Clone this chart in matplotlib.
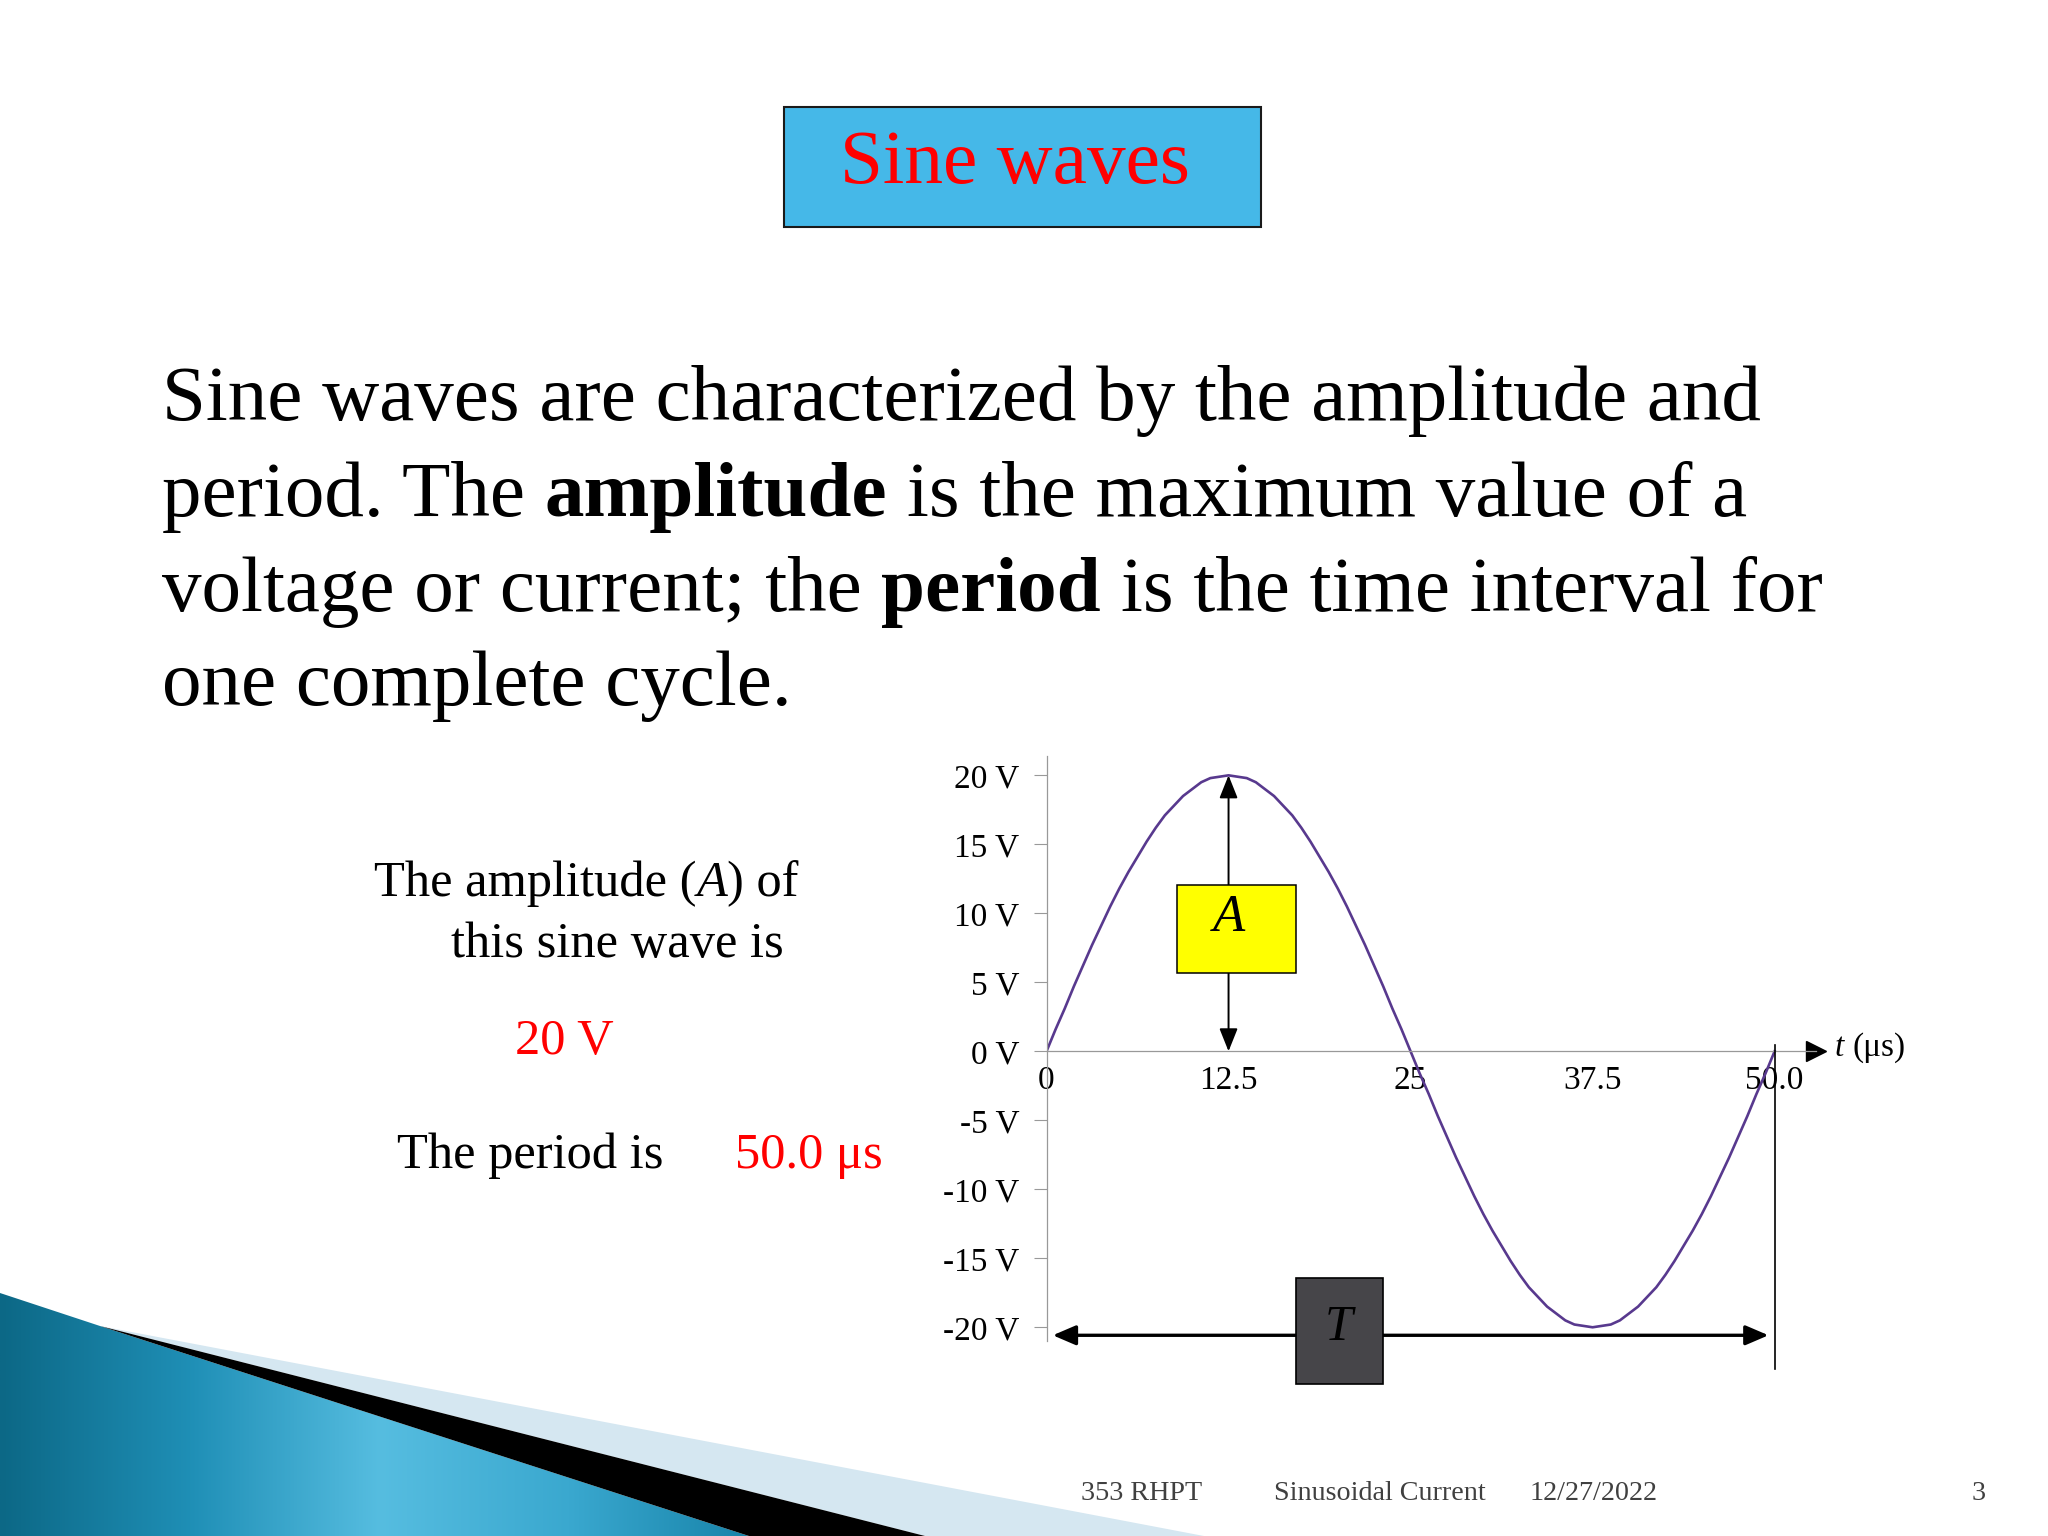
import numpy as np
import matplotlib.pyplot as plt
from matplotlib.patches import Rectangle, Polygon
from matplotlib.colors import LinearSegmentedColormap

plt.rcParams['font.family'] = ['Liberation Serif', 'DejaVu Serif']

# values (one cycle, every 0.625 us)
t_us = [0, 0.625, 1.25, 1.875, 2.5, 3.125, 3.75, 4.375, 5, 5.625,
        6.25, 6.875, 7.5, 8.125, 8.75, 9.375, 10, 10.625, 11.25, 11.875,
        12.5, 13.125, 13.75, 14.375, 15, 15.625, 16.25, 16.875, 17.5, 18.125,
        18.75, 19.375, 20, 20.625, 21.25, 21.875, 22.5, 23.125, 23.75, 24.375,
        25, 25.625, 26.25, 26.875, 27.5, 28.125, 28.75, 29.375, 30, 30.625,
        31.25, 31.875, 32.5, 33.125, 33.75, 34.375, 35, 35.625, 36.25, 36.875,
        37.5, 38.125, 38.75, 39.375, 40, 40.625, 41.25, 41.875, 42.5, 43.125,
        43.75, 44.375, 45, 45.625, 46.25, 46.875, 47.5, 48.125, 48.75, 49.375,
        50]
volts = [0.0, 1.6, 3.1, 4.7, 6.2, 7.7, 9.1, 10.5, 11.8, 13.0,
         14.1, 15.2, 16.2, 17.1, 17.8, 18.5, 19.0, 19.5, 19.8, 19.9,
         20.0, 19.9, 19.8, 19.5, 19.0, 18.5, 17.8, 17.1, 16.2, 15.2,
         14.1, 13.0, 11.8, 10.5, 9.1, 7.7, 6.2, 4.7, 3.1, 1.6,
         0.0, -1.6, -3.1, -4.7, -6.2, -7.7, -9.1, -10.5, -11.8, -13.0,
         -14.1, -15.2, -16.2, -17.1, -17.8, -18.5, -19.0, -19.5, -19.8, -19.9,
         -20.0, -19.9, -19.8, -19.5, -19.0, -18.5, -17.8, -17.1, -16.2, -15.2,
         -14.1, -13.0, -11.8, -10.5, -9.1, -7.7, -6.2, -4.7, -3.1, -1.6,
         0.0]
y_ticks = [20, 15, 10, 5, 0, -5, -10, -15, -20]
y_labels = ['20 V', '15 V', '10 V', '5 V', '0 V', '-5 V', '-10 V', '-15 V', '-20 V']
x_ticks = [0, 12.5, 25, 37.5, 50]
x_labels = ['0', '12.5', '25', '37.5', '50.0']
amplitude = 20
period = 50.0

title = 'Sine waves'
body_lines = [
    [('Sine waves are characterized by the amplitude and', {})],
    [('period. The ', {}), ('amplitude', {'weight': 'bold'}), (' is the maximum value of a', {})],
    [('voltage or current; the ', {}), ('period', {'weight': 'bold'}), (' is the time interval for', {})],
    [('one complete cycle.', {})],
]
footer = ['353 RHPT', 'Sinusoidal Current', '12/27/2022', '3']

fig = plt.figure(figsize=(20.48, 15.36), dpi=100)
bg = fig.add_axes([0, 0, 1, 1])
bg.axis('off')
renderer = fig.canvas.get_renderer()


def width(s, size, **kw):
    t = bg.text(0, 0, s, fontsize=size, **kw)
    w = t.get_window_extent(renderer).width
    t.remove()
    return w


def runs_width(runs, size):
    sp = width('a a', size) - width('aa', size)
    total = 0
    for s, kw in runs:
        core = s.strip(' ')
        total += (len(s) - len(core)) * sp + width(core, size, **kw)
    return total


def draw_runs(x, y, runs, size, color='black'):
    sp = width('a a', size) - width('aa', size)
    for s, kw in runs:
        lead = len(s) - len(s.lstrip(' '))
        trail = len(s) - len(s.rstrip(' '))
        x += lead * sp
        kw = dict(kw)
        kw.setdefault('color', color)
        t = bg.text(x, y, s.strip(' '), fontsize=size, va='baseline', ha='left', **kw)
        x += t.get_window_extent(renderer).width + trail * sp
    return x


def fit(runs, target):
    return 10 * target / runs_width(runs, 10)


# work in slide pixels for everything outside the chart
bg.set_xlim(0, 2048)
bg.set_ylim(1536, 0)

# corner decoration
teal = LinearSegmentedColormap.from_list(
    'teal', ['#0c6886', '#1f8fb6', '#56bde0', '#3aa8cf', '#1682a8'])
grad = np.tile(np.linspace(0, 1, 256), (2, 1))
im = bg.imshow(grad, extent=(0, 760, 1536, 1288), cmap=teal, aspect='auto', zorder=1)
clip = Polygon([(0, 1293), (100, 1326), (749, 1536), (0, 1536)], closed=True,
               transform=bg.transData)
im.set_clip_path(clip)
bg.add_patch(Polygon([(100, 1326), (1204, 1536), (925, 1536)], closed=True,
                     fc='#d5e7f1', ec='none', zorder=1))
bg.add_patch(Polygon([(100, 1326), (925, 1536), (749, 1536)], closed=True,
                     fc='black', ec='none', zorder=2))
bg.set_xlim(0, 2048)
bg.set_ylim(1536, 0)

# title box
bg.add_patch(Rectangle((784, 107), 477, 120, fc='#45b8e8', ec='#1a1a1a', lw=1.5, zorder=2))
title_runs = [(title, {})]
draw_runs(840, 183, title_runs, fit(title_runs, 351), color='#ff0000')

# paragraph
body_size = fit(body_lines[0], 1604)
for runs, base in zip(body_lines, [420, 516, 611, 705]):
    draw_runs(162, base, runs, body_size)

# left explanation
amp_runs = [('The amplitude (', {}), ('A', {'style': 'italic'}), (') of', {})]
side_size = fit(amp_runs, 425)
draw_runs(374, 896, amp_runs, side_size)
draw_runs(451, 957, [('this sine wave is', {})], side_size)
draw_runs(515, 1054, [(f'{amplitude} V', {})], side_size, color='#ff0000')
draw_runs(397, 1168, [('The period is', {})], side_size)
draw_runs(735, 1168, [(f'{period:.1f} μs', {})], side_size, color='#ff0000')

# footer
foot_size = fit([(footer[1], {})], 212)
for s, x in zip(footer, [1081, 1274, 1530, 1972]):
    draw_runs(x, 1500, [(s, {})], foot_size, color='#404040')

# axis label for time
draw_runs(1835, 1056, [('t', {'style': 'italic'}), (' (μs)', {})], 24)

# chart
ax = fig.add_axes([0.5110, 0.1269, 0.3757, 0.3809])
ax.set_facecolor('none')
ax.plot(t_us, volts, color='#58398e', lw=1.9, zorder=2)
ax.set_xlim(0, 52.84)
ax.set_ylim(-21.0, 21.4)
ax.spines[['top', 'right']].set_visible(False)
ax.spines['bottom'].set_position(('data', 0))
for s in ['left', 'bottom']:
    ax.spines[s].set_color('#999999')
    ax.spines[s].set_linewidth(0.9)
ax.set_yticks(y_ticks, y_labels)
ax.set_xticks(x_ticks, x_labels)
ax.tick_params(axis='y', direction='out', length=9.4, width=0.8, color='#999999',
               pad=10, labelsize=24)
ax.tick_params(axis='x', length=0, pad=10, labelsize=24)
ax.plot(1, 0, marker='>', color='black', ms=15, transform=ax.get_yaxis_transform(),
        clip_on=False)

# amplitude marker
ax.annotate('', xy=(12.5, amplitude), xytext=(12.5, 0),
            arrowprops=dict(arrowstyle='<|-|>,head_length=0.7,head_width=0.28',
                            color='black', lw=1.4, mutation_scale=20,
                            shrinkA=0, shrinkB=0), zorder=3)
ax.add_patch(Rectangle((8.96, 5.70), 8.2, 6.34, fc='#ffff00', ec='black', lw=1.1,
                       zorder=4))
ax.text(12.5, 8.69, 'A', style='italic', fontsize=38, ha='center', va='baseline', zorder=5)

# period marker
ax.annotate('', xy=(49.58, -20.58), xytext=(0.43, -20.58),
            arrowprops=dict(arrowstyle='<|-|>,head_length=0.7,head_width=0.3',
                            color='black', lw=2.4, mutation_scale=20,
                            shrinkA=0, shrinkB=0), zorder=3, annotation_clip=False)
ax.plot([period, period], [0.46, -23.0], color='black', lw=1.2, clip_on=False, zorder=3)
ax.add_patch(Rectangle((17.16, -24.09), 5.92, 7.63, fc='#464549', ec='black', lw=1.2,
                       zorder=4, clip_on=False))
ax.text(20.04, -20.9, 'T', style='italic', fontsize=36, ha='center', va='baseline',
        zorder=5, clip_on=False)

fig.savefig('out.png', dpi=100)
